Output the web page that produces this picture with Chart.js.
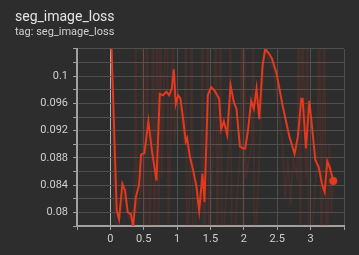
<!DOCTYPE html>
<html>
<head>
<meta charset="utf-8">
<script src="https://cdn.jsdelivr.net/npm/chart.js@4/dist/chart.umd.min.js"></script>
<style>
  html, body { margin: 0; padding: 0; background: #2d2d2d; }
  #wrap { position: relative; width: 359px; height: 255px; }
  #title { position: absolute; left: 15px; top: 8px; font: 14px Roboto, sans-serif; color: #e4e4e4; }
  #tag { position: absolute; left: 15px; top: 25px; font: 11px Roboto, sans-serif; color: #d0d0d0; }
  canvas { position: absolute; left: 0; top: 0; }
</style>
</head>
<body>
<div id="wrap">
  <canvas id="chart" width="359" height="255"></canvas>
  <div id="title">seg_image_loss</div>
  <div id="tag">tag: seg_image_loss</div>
</div>
<script>
// ===== Data =====

// smoothed series (steps in x, loss values)
const steps = [0.01, 0.095, 0.13, 0.18, 0.22, 0.26, 0.31, 0.34, 0.38, 0.43, 0.46, 0.51, 0.57, 0.62, 0.69, 0.74,
  0.79, 0.84, 0.88, 0.92, 0.95, 0.98, 1.015, 1.05, 1.09, 1.13, 1.15, 1.19, 1.24, 1.29, 1.33, 1.38, 1.41,
  1.46, 1.51, 1.56, 1.63, 1.66, 1.70, 1.75, 1.80, 1.85, 1.89, 1.94, 1.99, 2.02, 2.06, 2.11, 2.15, 2.19,
  2.23, 2.28, 2.32, 2.37, 2.42, 2.49, 2.58, 2.68, 2.76, 2.81, 2.86, 2.88, 2.93, 2.98, 3.02, 3.07, 3.12,
  3.17, 3.21, 3.25, 3.29, 3.34];
const loss = [0.1065, 0.0803, 0.0790, 0.0842, 0.0832, 0.0800, 0.0797, 0.0778, 0.0822, 0.0840, 0.0885, 0.0887,
  0.0934, 0.0892, 0.0847, 0.0974, 0.0972, 0.0977, 0.0972, 0.0982, 0.1010, 0.0959, 0.0972, 0.0967, 0.0937,
  0.0904, 0.0909, 0.0882, 0.0862, 0.0837, 0.0802, 0.0857, 0.0815, 0.0972, 0.0984, 0.0979, 0.0967, 0.0922,
  0.0934, 0.0914, 0.0987, 0.0962, 0.0952, 0.0897, 0.0894, 0.0894, 0.0919, 0.0964, 0.0952, 0.0982, 0.0937,
  0.1016, 0.1040, 0.1034, 0.1026, 0.1004, 0.0957, 0.0912, 0.0886, 0.0912, 0.0967, 0.0967, 0.0894, 0.0964,
  0.0927, 0.0877, 0.0867, 0.0842, 0.0830, 0.0875, 0.0865, 0.0846];

// raw (unsmoothed) series, drawn faintly behind
const rawSteps = [0.00, 0.06, 0.12, 0.20, 0.28, 0.36, 0.38, 0.40, 0.47, 0.49, 0.52, 0.55, 0.58, 0.62, 0.64,
  0.66, 0.70, 0.72, 0.75, 0.77, 0.80, 0.85, 0.87, 0.92, 0.94, 0.96, 1.02, 1.11, 1.13, 1.15, 1.20, 1.22,
  1.24, 1.30, 1.36, 1.38, 1.40, 1.44, 1.46, 1.48, 1.56, 1.58, 1.60, 1.63, 1.65, 1.67, 1.78, 1.80, 1.82,
  1.95, 1.97, 1.99, 2.01, 2.03, 2.12, 2.14, 2.16, 2.30, 2.45, 2.58, 2.62, 2.66, 2.70, 2.74, 2.80, 2.82,
  2.85, 2.87, 2.93, 2.95, 2.97, 3.10, 3.13, 3.16, 3.20, 3.24, 3.28, 3.31, 3.34];
const rawLoss = [0.115, 0.079, 0.078, 0.083, 0.079, 0.081, 0.110, 0.080, 0.084, 0.112, 0.070, 0.115, 0.072,
  0.090, 0.112, 0.075, 0.110, 0.072, 0.112, 0.085, 0.098, 0.112, 0.076, 0.099, 0.112, 0.090, 0.097, 0.090,
  0.112, 0.070, 0.088, 0.112, 0.070, 0.084, 0.081, 0.112, 0.070, 0.090, 0.112, 0.072, 0.097, 0.112, 0.070,
  0.095, 0.112, 0.072, 0.090, 0.112, 0.070, 0.090, 0.112, 0.070, 0.112, 0.085, 0.090, 0.112, 0.072, 0.104,
  0.101, 0.090, 0.082, 0.088, 0.081, 0.088, 0.085, 0.112, 0.070, 0.112, 0.085, 0.112, 0.070, 0.088, 0.112,
  0.070, 0.112, 0.070, 0.090, 0.080, 0.085];

// axis ranges / ticks
const xMin = -0.5, xMax = 3.5, xStep = 0.5;
const yMin = 0.078, yMax = 0.104, yStep = 0.002;

// ===== Chart =====

const lineColor = "#e3391d";
const tickFont = { family: "Roboto", size: 11 };

const ctx = document.getElementById("chart").getContext("2d");
new Chart(ctx, {
  type: "line",
  data: {
    datasets: [
      {
        data: steps.map((s, i) => ({ x: s, y: loss[i] })),
        borderColor: lineColor,
        backgroundColor: lineColor,
        borderWidth: 2,
        pointRadius: steps.map((s, i) => (i === steps.length - 1 ? 4 : 0)),
        pointBorderWidth: 0,
        tension: 0,
        clip: 0
      },
      {
        data: rawSteps.map((s, i) => ({ x: s, y: rawLoss[i] })),
        borderColor: "rgba(190, 55, 35, 0.15)",
        borderWidth: 2,
        pointRadius: 0,
        tension: 0,
        clip: 0
      }
    ]
  },
  options: {
    responsive: false,
    animation: false,
    layout: { padding: { top: 49, right: 15, left: 0, bottom: 0 } },
    plugins: { legend: { display: false }, tooltip: { enabled: false } },
    scales: {
      x: {
        type: "linear",
        min: xMin,
        max: xMax,
        afterFit: s => { s.height = 29; },
        afterBuildTicks: s => {
          s.ticks = [];
          for (let v = xMin; v <= xMax + 1e-9; v += xStep) s.ticks.push({ value: v });
        },
        ticks: {
          color: "#cfcfcf",
          font: tickFont,
          padding: 3,
          maxRotation: 0,
          autoSkip: false,
          callback: v => (v <= xMin || v >= xMax ? "" : String(+v.toFixed(1)))
        },
        grid: {
          color: c => (c.tick && c.tick.value === 0 ? "#b0b0b0" : "#4f4f4f"),
          tickColor: "#a0a0a0",
          tickLength: 4
        },
        border: { color: "#a0a0a0", width: 2 }
      },
      y: {
        min: yMin,
        max: yMax,
        afterFit: s => { s.width = 77; },
        afterBuildTicks: s => {
          s.ticks = [];
          for (let k = 0; k <= Math.round((yMax - yMin) / yStep); k++) s.ticks.push({ value: yMin + k * yStep });
        },
        ticks: {
          color: "#cfcfcf",
          font: tickFont,
          padding: 5,
          autoSkip: false,
          callback: v => {
            const m = Math.round(v * 1000);
            if (m % 4 !== 0 || m >= 104) return "";
            return String(+v.toFixed(3));
          }
        },
        grid: { color: "#4f4f4f", tickColor: "#a0a0a0", tickLength: 4 },
        border: { color: "#a0a0a0", width: 2 }
      }
    }
  }
});
</script>
</body>
</html>
